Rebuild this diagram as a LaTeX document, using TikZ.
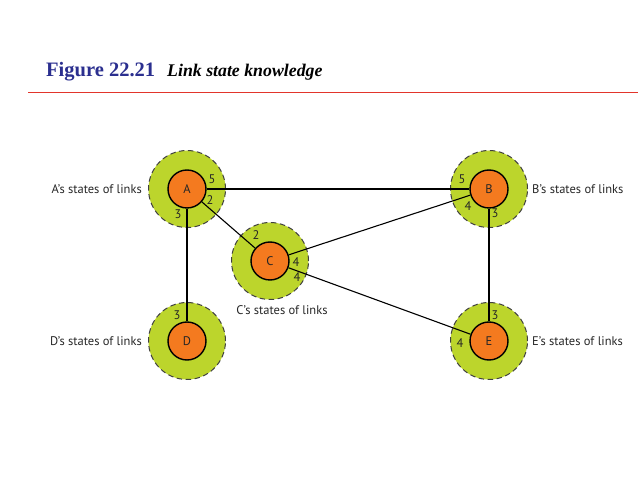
\documentclass[tikz,border=0pt]{standalone}
\usepackage{fontspec}
\setmainfont{Liberation Serif}
\newfontfamily\labelfont{PT Sans}
\usetikzlibrary{positioning, calc}
\definecolor{ringgreen}{HTML}{BCD52C}
\definecolor{routerorange}{HTML}{F47A1F}
\definecolor{figblue}{HTML}{2B2F8F}
\definecolor{rulered}{HTML}{E2352B}

\begin{document}
\begin{tikzpicture}[
    x=1pt, y=1pt,
    node distance=152pt and 302pt, on grid,
    ring/.style={circle, draw=black!75, line width=1pt, dash pattern=on 5.5pt off 3.5pt, fill=ringgreen, minimum size=77pt, inner sep=0pt},
    router/.style={circle, draw=black, line width=1.4pt, fill=routerorange, minimum size=38pt, inner sep=0pt, font=\labelfont\fontsize{12.5}{15}\selectfont, text=black!85},
    link/.style={line width=1.1pt},
    num/.style={font=\labelfont\fontsize{12.5}{15}\selectfont, text=black!85, inner sep=0pt},
    info/.style={font=\labelfont\fontsize{12.5}{15}\selectfont, text=black!85, inner sep=0pt},
]
\useasboundingbox (0,0) rectangle (638,-478);

% Title and rule
\node[anchor=base west, inner sep=0pt, font=\fontsize{20.5}{24}\selectfont\bfseries, text=figblue] (fig) at (46,-77) {Figure 22.21};
\node[anchor=base west, inner sep=0pt, font=\fontsize{17.8}{22}\selectfont\bfseries\itshape] (title) at (167,-77) {Link state knowledge};
\draw[rulered, line width=1.2pt] (28,-92.5) -- (638,-92.5);

% Rings (states of links)
\node[ring] (ringA) at (187,-189) {};
\node[ring, right=of ringA] (ringB) {};
\node[ring, below=of ringA] (ringD) {};
\node[ring, below=of ringB] (ringE) {};
\node[ring, below right=72pt and 83pt of ringA] (ringC) {};

% Routers
\foreach \n in {A, B, C, D, E} {
    \node[router] (\n) at (ring\n) {\n};
}

% Links
\foreach \a/\b in {A/B, A/C, A/D, C/B, C/E, B/E} {
    \draw[link] (\a) -- (\b);
}

% Link costs
\node[num] (a5) at ($(A)+(25,10)$) {5};
\node[num] (a2) at ($(A)+(23,-11)$) {2};
\node[num] (a3) at ($(A)+(-9,-25)$) {3};
\node[num] (b5) at ($(B)+(-27,10)$) {5};
\node[num] (b4) at ($(B)+(-21,-17)$) {4};
\node[num] (b3) at ($(B)+(6,-24)$) {3};
\node[num] (c2) at ($(C)+(-14,26)$) {2};
\node[num] (c4a) at ($(C)+(26,-1)$) {4};
\node[num] (c4b) at ($(C)+(27,-16)$) {4};
\node[num] (d3) at ($(D)+(-10,26)$) {3};
\node[num] (e3) at ($(E)+(6,26)$) {3};
\node[num] (e4) at ($(E)+(-29,-2)$) {4};

% Labels
\node[info, anchor=east] (infoA) at (142,-189) {A’s states of links};
\node[info, anchor=west] (infoB) at (532,-189) {B’s states of links};
\node[info] (infoC) at (282,-310) {C’s states of links};
\node[info, anchor=east] (infoD) at (142,-341) {D’s states of links};
\node[info, anchor=west] (infoE) at (532,-341) {E’s states of links};

\end{tikzpicture}
\end{document}
